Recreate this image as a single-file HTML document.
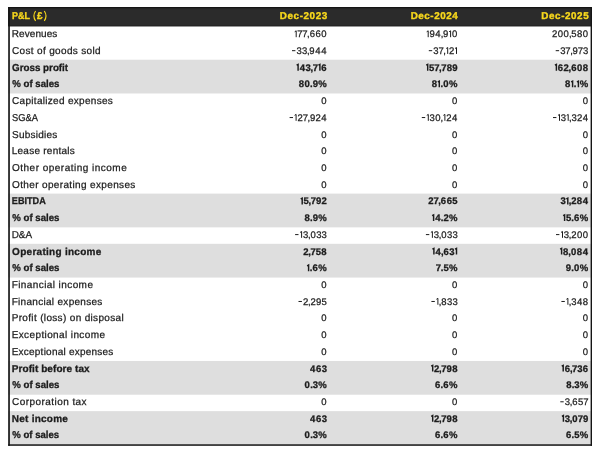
<!DOCTYPE html><html><head><meta charset="utf-8"><style>html,body{margin:0;padding:0;background:#fff;overflow:hidden}svg{display:block;will-change:transform}text{font-family:"Liberation Sans",sans-serif;white-space:pre;text-rendering:geometricPrecision}</style></head><body>
<svg width="600" height="453" viewBox="0 0 600 453">
<rect x="0" y="0" width="600" height="453" fill="#fff"/>
<rect x="8.00" y="7.00" width="584.00" height="18.80" fill="#2b2b2b"/>
<rect x="8.00" y="59.72" width="584.00" height="33.77" fill="#dedede"/>
<rect x="8.00" y="193.60" width="584.00" height="33.77" fill="#dedede"/>
<rect x="8.00" y="243.81" width="584.00" height="33.77" fill="#dedede"/>
<rect x="8.00" y="360.95" width="584.00" height="33.77" fill="#dedede"/>
<rect x="8.00" y="411.15" width="584.00" height="33.77" fill="#dedede"/>
<rect x="8.20" y="7.05" width="1.65" height="438.75" fill="#141414"/>
<rect x="590.60" y="7.05" width="1.40" height="438.75" fill="#141414"/>
<rect x="8.20" y="7.05" width="583.80" height="1.25" fill="#141414"/>
<rect x="8.20" y="444.30" width="583.80" height="1.50" fill="#141414"/>
<rect x="8.20" y="25.25" width="583.80" height="1.20" fill="#141414"/>
<text x="12.04" y="18.80" font-size="9.90" font-weight="bold" fill="#f8d81c" stroke="#f8d81c" stroke-width="0.35" textLength="17.97" lengthAdjust="spacingAndGlyphs">P&amp;L</text>
<path d="M35.6 11.0Q32.2 15.9 35.6 20.8" fill="none" stroke="#f8d81c" stroke-width="1.15"/>
<text x="37.10" y="18.80" font-size="9.90" font-weight="bold" fill="#f8d81c" stroke="#f8d81c" stroke-width="0.35" textLength="5.60" lengthAdjust="spacing">£</text>
<path d="M44.3 11.0Q47.7 15.9 44.3 20.8" fill="none" stroke="#f8d81c" stroke-width="1.15"/>
<text x="279.84" y="18.80" font-size="9.90" font-weight="bold" fill="#f8d81c" stroke="#f8d81c" stroke-width="0.35" textLength="47.42" lengthAdjust="spacing">Dec-2023</text>
<text x="410.64" y="18.80" font-size="9.90" font-weight="bold" fill="#f8d81c" stroke="#f8d81c" stroke-width="0.35" textLength="47.11" lengthAdjust="spacing">Dec-2024</text>
<text x="541.34" y="18.80" font-size="9.90" font-weight="bold" fill="#f8d81c" stroke="#f8d81c" stroke-width="0.35" textLength="47.34" lengthAdjust="spacing">Dec-2025</text>
<text x="11.68" y="37.20" font-size="10.00" fill="#1c1c1c" stroke="#1c1c1c" stroke-width="0.25" textLength="45.68" lengthAdjust="spacing">Revenues</text>
<path d="M294.70 31.77L296.20 30.82L296.20 37.20" fill="none" stroke="#1c1c1c" stroke-width="1.00" stroke-linejoin="miter"/><text x="297.26 302.26 307.08 309.63 315.43 321.31" y="37.20" font-size="9.50" fill="#1c1c1c" stroke="#1c1c1c" stroke-width="0.25">77,660</text>
<path d="M426.70 31.77L428.20 30.82L428.20 37.20" fill="none" stroke="#1c1c1c" stroke-width="1.00" stroke-linejoin="miter"/><path d="M449.10 31.77L450.60 30.82L450.60 37.20" fill="none" stroke="#1c1c1c" stroke-width="1.00" stroke-linejoin="miter"/><text x="429.51 435.34 440.68 443.11 452.11" y="37.20" font-size="9.50" fill="#1c1c1c" stroke="#1c1c1c" stroke-width="0.25">94,90</text>
<text x="552.01 557.71 563.61 568.88 571.32 576.96 582.81" y="37.20" font-size="9.50" fill="#1c1c1c" stroke="#1c1c1c" stroke-width="0.25">200,580</text>
<text x="11.99" y="53.92" font-size="10.00" fill="#1c1c1c" stroke="#1c1c1c" stroke-width="0.25" textLength="88.65" lengthAdjust="spacing">Cost of goods sold</text>
<rect x="292.00" y="50.17" width="3.40" height="1.00" fill="#1c1c1c"/><text x="296.49 301.89 306.88 309.31 315.14 321.24" y="53.92" font-size="9.50" fill="#1c1c1c" stroke="#1c1c1c" stroke-width="0.25">33,944</text>
<rect x="428.80" y="50.17" width="3.40" height="1.00" fill="#1c1c1c"/><path d="M446.20 48.49L447.70 47.54L447.70 53.92" fill="none" stroke="#1c1c1c" stroke-width="1.00" stroke-linejoin="miter"/><path d="M455.00 48.49L456.50 47.54L456.50 53.92" fill="none" stroke="#1c1c1c" stroke-width="1.00" stroke-linejoin="miter"/><text x="433.29 438.46 443.28 449.01" y="53.92" font-size="9.50" fill="#1c1c1c" stroke="#1c1c1c" stroke-width="0.25">37,2</text>
<rect x="555.70" y="50.17" width="3.40" height="1.00" fill="#1c1c1c"/><text x="560.19 565.36 570.18 572.61 577.86 583.09" y="53.92" font-size="9.50" fill="#1c1c1c" stroke="#1c1c1c" stroke-width="0.25">37,973</text>
<text x="12.09" y="70.64" font-size="10.00" font-weight="bold" fill="#1c1c1c" stroke="#1c1c1c" stroke-width="0.30" textLength="56.03" lengthAdjust="spacingAndGlyphs">Gross profit</text>
<path d="M296.60 65.21L298.10 64.42L298.10 70.64" fill="none" stroke="#1c1c1c" stroke-width="1.45" stroke-linejoin="miter"/><path d="M318.40 65.21L319.90 64.42L319.90 70.64" fill="none" stroke="#1c1c1c" stroke-width="1.45" stroke-linejoin="miter"/><text x="299.67 305.53 310.48 312.67 321.36" y="70.64" font-size="9.50" font-weight="bold" fill="#1c1c1c" stroke="#1c1c1c" stroke-width="0.30">43,76</text>
<path d="M426.20 65.21L427.70 64.42L427.70 70.64" fill="none" stroke="#1c1c1c" stroke-width="1.45" stroke-linejoin="miter"/><text x="429.00 434.27 439.08 441.27 446.66 452.32" y="70.64" font-size="9.50" font-weight="bold" fill="#1c1c1c" stroke="#1c1c1c" stroke-width="0.30">57,789</text>
<path d="M554.90 65.21L556.40 64.42L556.40 70.64" fill="none" stroke="#1c1c1c" stroke-width="1.45" stroke-linejoin="miter"/><text x="557.86 563.54 568.58 571.16 577.02 582.86" y="70.64" font-size="9.50" font-weight="bold" fill="#1c1c1c" stroke="#1c1c1c" stroke-width="0.30">62,608</text>
<text x="12.25" y="87.36" font-size="10.00" font-weight="bold" fill="#1c1c1c" stroke="#1c1c1c" stroke-width="0.30" textLength="47.16" lengthAdjust="spacingAndGlyphs">% of sales</text>
<text x="298.66 304.52 310.04 312.72 318.29" y="87.36" font-size="9.50" font-weight="bold" fill="#1c1c1c" stroke="#1c1c1c" stroke-width="0.30">80.9%</text>
<path d="M437.80 81.93L439.30 81.14L439.30 87.36" fill="none" stroke="#1c1c1c" stroke-width="1.45" stroke-linejoin="miter"/><text x="431.66 440.44 443.32 449.09" y="87.36" font-size="9.50" font-weight="bold" fill="#1c1c1c" stroke="#1c1c1c" stroke-width="0.30">8.0%</text>
<path d="M571.10 81.93L572.60 81.14L572.60 87.36" fill="none" stroke="#1c1c1c" stroke-width="1.45" stroke-linejoin="miter"/><path d="M576.90 81.93L578.40 81.14L578.40 87.36" fill="none" stroke="#1c1c1c" stroke-width="1.45" stroke-linejoin="miter"/><text x="564.96 573.74 579.79" y="87.36" font-size="9.50" font-weight="bold" fill="#1c1c1c" stroke="#1c1c1c" stroke-width="0.30">8.%</text>
<text x="11.99" y="104.08" font-size="10.00" fill="#1c1c1c" stroke="#1c1c1c" stroke-width="0.25" textLength="100.87" lengthAdjust="spacing">Capitalized expenses</text>
<text x="321.31" y="104.08" font-size="9.50" fill="#1c1c1c" stroke="#1c1c1c" stroke-width="0.25">0</text>
<text x="452.11" y="104.08" font-size="9.50" fill="#1c1c1c" stroke="#1c1c1c" stroke-width="0.25">0</text>
<text x="582.81" y="104.08" font-size="9.50" fill="#1c1c1c" stroke="#1c1c1c" stroke-width="0.25">0</text>
<text x="12.04" y="120.80" font-size="10.00" fill="#1c1c1c" stroke="#1c1c1c" stroke-width="0.25" textLength="25.98" lengthAdjust="spacingAndGlyphs">SG&amp;A</text>
<rect x="289.60" y="117.05" width="3.40" height="1.00" fill="#1c1c1c"/><path d="M294.60 115.37L296.10 114.42L296.10 120.80" fill="none" stroke="#1c1c1c" stroke-width="1.00" stroke-linejoin="miter"/><text x="297.41 302.66 307.48 309.91 315.41 321.24" y="120.80" font-size="9.50" fill="#1c1c1c" stroke="#1c1c1c" stroke-width="0.25">27,924</text>
<rect x="421.80" y="117.05" width="3.40" height="1.00" fill="#1c1c1c"/><path d="M426.80 115.37L428.30 114.42L428.30 120.80" fill="none" stroke="#1c1c1c" stroke-width="1.00" stroke-linejoin="miter"/><path d="M443.40 115.37L444.90 114.42L444.90 120.80" fill="none" stroke="#1c1c1c" stroke-width="1.00" stroke-linejoin="miter"/><text x="429.59 435.21 440.48 446.21 452.04" y="120.80" font-size="9.50" fill="#1c1c1c" stroke="#1c1c1c" stroke-width="0.25">30,24</text>
<rect x="553.00" y="117.05" width="3.40" height="1.00" fill="#1c1c1c"/><path d="M558.00 115.37L559.50 114.42L559.50 120.80" fill="none" stroke="#1c1c1c" stroke-width="1.00" stroke-linejoin="miter"/><path d="M566.70 115.37L568.20 114.42L568.20 120.80" fill="none" stroke="#1c1c1c" stroke-width="1.00" stroke-linejoin="miter"/><text x="560.79 569.08 571.49 576.91 582.74" y="120.80" font-size="9.50" fill="#1c1c1c" stroke="#1c1c1c" stroke-width="0.25">3,324</text>
<text x="12.04" y="137.52" font-size="10.00" fill="#1c1c1c" stroke="#1c1c1c" stroke-width="0.25" textLength="45.32" lengthAdjust="spacing">Subsidies</text>
<text x="321.31" y="137.52" font-size="9.50" fill="#1c1c1c" stroke="#1c1c1c" stroke-width="0.25">0</text>
<text x="452.11" y="137.52" font-size="9.50" fill="#1c1c1c" stroke="#1c1c1c" stroke-width="0.25">0</text>
<text x="582.81" y="137.52" font-size="9.50" fill="#1c1c1c" stroke="#1c1c1c" stroke-width="0.25">0</text>
<text x="11.68" y="154.24" font-size="10.00" fill="#1c1c1c" stroke="#1c1c1c" stroke-width="0.25" textLength="63.18" lengthAdjust="spacing">Lease rentals</text>
<text x="321.31" y="154.24" font-size="9.50" fill="#1c1c1c" stroke="#1c1c1c" stroke-width="0.25">0</text>
<text x="452.11" y="154.24" font-size="9.50" fill="#1c1c1c" stroke="#1c1c1c" stroke-width="0.25">0</text>
<text x="582.81" y="154.24" font-size="9.50" fill="#1c1c1c" stroke="#1c1c1c" stroke-width="0.25">0</text>
<text x="12.03" y="170.96" font-size="10.00" fill="#1c1c1c" stroke="#1c1c1c" stroke-width="0.25" textLength="114.66" lengthAdjust="spacing">Other operating income</text>
<text x="321.31" y="170.96" font-size="9.50" fill="#1c1c1c" stroke="#1c1c1c" stroke-width="0.25">0</text>
<text x="452.11" y="170.96" font-size="9.50" fill="#1c1c1c" stroke="#1c1c1c" stroke-width="0.25">0</text>
<text x="582.81" y="170.96" font-size="9.50" fill="#1c1c1c" stroke="#1c1c1c" stroke-width="0.25">0</text>
<text x="12.03" y="187.68" font-size="10.00" fill="#1c1c1c" stroke="#1c1c1c" stroke-width="0.25" textLength="123.33" lengthAdjust="spacing">Other operating expenses</text>
<text x="321.31" y="187.68" font-size="9.50" fill="#1c1c1c" stroke="#1c1c1c" stroke-width="0.25">0</text>
<text x="452.11" y="187.68" font-size="9.50" fill="#1c1c1c" stroke="#1c1c1c" stroke-width="0.25">0</text>
<text x="582.81" y="187.68" font-size="9.50" fill="#1c1c1c" stroke="#1c1c1c" stroke-width="0.25">0</text>
<text x="11.83" y="204.40" font-size="10.00" font-weight="bold" fill="#1c1c1c" stroke="#1c1c1c" stroke-width="0.30" textLength="33.93" lengthAdjust="spacingAndGlyphs">EBITDA</text>
<path d="M300.70 198.97L302.20 198.18L302.20 204.40" fill="none" stroke="#1c1c1c" stroke-width="1.45" stroke-linejoin="miter"/><text x="303.50 308.58 310.77 316.02 321.54" y="204.40" font-size="9.50" font-weight="bold" fill="#1c1c1c" stroke="#1c1c1c" stroke-width="0.30">5,792</text>
<text x="428.24 433.47 438.28 440.86 446.66 452.30" y="204.40" font-size="9.50" font-weight="bold" fill="#1c1c1c" stroke="#1c1c1c" stroke-width="0.30">27,665</text>
<path d="M566.30 198.97L567.80 198.18L567.80 204.40" fill="none" stroke="#1c1c1c" stroke-width="1.45" stroke-linejoin="miter"/><text x="560.43 568.68 571.14 576.76 582.67" y="204.40" font-size="9.50" font-weight="bold" fill="#1c1c1c" stroke="#1c1c1c" stroke-width="0.30">3,284</text>
<text x="12.25" y="221.12" font-size="10.00" font-weight="bold" fill="#1c1c1c" stroke="#1c1c1c" stroke-width="0.30" textLength="47.16" lengthAdjust="spacingAndGlyphs">% of sales</text>
<text x="304.56 310.04 312.72 318.29" y="221.12" font-size="9.50" font-weight="bold" fill="#1c1c1c" stroke="#1c1c1c" stroke-width="0.30">8.9%</text>
<path d="M432.10 215.69L433.60 214.90L433.60 221.12" fill="none" stroke="#1c1c1c" stroke-width="1.45" stroke-linejoin="miter"/><text x="435.17 440.84 443.54 449.09" y="221.12" font-size="9.50" font-weight="bold" fill="#1c1c1c" stroke="#1c1c1c" stroke-width="0.30">4.2%</text>
<path d="M563.10 215.69L564.60 214.90L564.60 221.12" fill="none" stroke="#1c1c1c" stroke-width="1.45" stroke-linejoin="miter"/><text x="565.90 571.24 574.06 579.79" y="221.12" font-size="9.50" font-weight="bold" fill="#1c1c1c" stroke="#1c1c1c" stroke-width="0.30">5.6%</text>
<text x="11.68" y="237.84" font-size="10.00" fill="#1c1c1c" stroke="#1c1c1c" stroke-width="0.25" textLength="20.34" lengthAdjust="spacingAndGlyphs">D&amp;A</text>
<rect x="295.10" y="234.09" width="3.40" height="1.00" fill="#1c1c1c"/><path d="M300.10 232.41L301.60 231.46L301.60 237.84" fill="none" stroke="#1c1c1c" stroke-width="1.00" stroke-linejoin="miter"/><text x="302.89 307.88 310.51 316.19 321.59" y="237.84" font-size="9.50" fill="#1c1c1c" stroke="#1c1c1c" stroke-width="0.25">3,033</text>
<rect x="425.90" y="234.09" width="3.40" height="1.00" fill="#1c1c1c"/><path d="M430.90 232.41L432.40 231.46L432.40 237.84" fill="none" stroke="#1c1c1c" stroke-width="1.00" stroke-linejoin="miter"/><text x="433.69 438.68 441.31 446.99 452.39" y="237.84" font-size="9.50" fill="#1c1c1c" stroke="#1c1c1c" stroke-width="0.25">3,033</text>
<rect x="556.00" y="234.09" width="3.40" height="1.00" fill="#1c1c1c"/><path d="M561.00 232.41L562.50 231.46L562.50 237.84" fill="none" stroke="#1c1c1c" stroke-width="1.00" stroke-linejoin="miter"/><text x="563.79 568.78 571.21 576.91 582.81" y="237.84" font-size="9.50" fill="#1c1c1c" stroke="#1c1c1c" stroke-width="0.25">3,200</text>
<text x="12.09" y="254.56" font-size="10.00" font-weight="bold" fill="#1c1c1c" stroke="#1c1c1c" stroke-width="0.30" textLength="89.25" lengthAdjust="spacing">Operating income</text>
<text x="303.24 308.28 310.47 315.70 321.36" y="254.56" font-size="9.50" font-weight="bold" fill="#1c1c1c" stroke="#1c1c1c" stroke-width="0.30">2,758</text>
<path d="M432.40 249.13L433.90 248.34L433.90 254.56" fill="none" stroke="#1c1c1c" stroke-width="1.45" stroke-linejoin="miter"/><path d="M455.00 249.13L456.50 248.34L456.50 254.56" fill="none" stroke="#1c1c1c" stroke-width="1.45" stroke-linejoin="miter"/><text x="435.47 440.88 443.46 449.13" y="254.56" font-size="9.50" font-weight="bold" fill="#1c1c1c" stroke="#1c1c1c" stroke-width="0.30">4,63</text>
<path d="M560.10 249.13L561.60 248.34L561.60 254.56" fill="none" stroke="#1c1c1c" stroke-width="1.45" stroke-linejoin="miter"/><text x="563.06 568.28 570.92 576.76 582.67" y="254.56" font-size="9.50" font-weight="bold" fill="#1c1c1c" stroke="#1c1c1c" stroke-width="0.30">8,084</text>
<text x="12.25" y="271.28" font-size="10.00" font-weight="bold" fill="#1c1c1c" stroke="#1c1c1c" stroke-width="0.30" textLength="47.16" lengthAdjust="spacingAndGlyphs">% of sales</text>
<path d="M307.10 265.85L308.60 265.06L308.60 271.28" fill="none" stroke="#1c1c1c" stroke-width="1.45" stroke-linejoin="miter"/><text x="309.74 312.56 318.29" y="271.28" font-size="9.50" font-weight="bold" fill="#1c1c1c" stroke="#1c1c1c" stroke-width="0.30">.6%</text>
<text x="435.77 440.84 443.50 449.09" y="271.28" font-size="9.50" font-weight="bold" fill="#1c1c1c" stroke="#1c1c1c" stroke-width="0.30">7.5%</text>
<text x="565.82 571.14 574.02 579.79" y="271.28" font-size="9.50" font-weight="bold" fill="#1c1c1c" stroke="#1c1c1c" stroke-width="0.30">9.0%</text>
<text x="11.68" y="288.00" font-size="10.00" fill="#1c1c1c" stroke="#1c1c1c" stroke-width="0.25" textLength="81.26" lengthAdjust="spacing">Financial income</text>
<text x="321.31" y="288.00" font-size="9.50" fill="#1c1c1c" stroke="#1c1c1c" stroke-width="0.25">0</text>
<text x="452.11" y="288.00" font-size="9.50" fill="#1c1c1c" stroke="#1c1c1c" stroke-width="0.25">0</text>
<text x="582.81" y="288.00" font-size="9.50" fill="#1c1c1c" stroke="#1c1c1c" stroke-width="0.25">0</text>
<text x="11.68" y="304.72" font-size="10.00" fill="#1c1c1c" stroke="#1c1c1c" stroke-width="0.25" textLength="90.68" lengthAdjust="spacing">Financial expenses</text>
<rect x="298.50" y="300.97" width="3.40" height="1.00" fill="#1c1c1c"/><text x="303.01 308.08 310.51 316.01 321.52" y="304.72" font-size="9.50" fill="#1c1c1c" stroke="#1c1c1c" stroke-width="0.25">2,295</text>
<rect x="431.40" y="300.97" width="3.40" height="1.00" fill="#1c1c1c"/><path d="M436.40 299.29L437.90 298.34L437.90 304.72" fill="none" stroke="#1c1c1c" stroke-width="1.00" stroke-linejoin="miter"/><text x="438.78 441.36 446.99 452.39" y="304.72" font-size="9.50" fill="#1c1c1c" stroke="#1c1c1c" stroke-width="0.25">,833</text>
<rect x="561.40" y="300.97" width="3.40" height="1.00" fill="#1c1c1c"/><path d="M566.40 299.29L567.90 298.34L567.90 304.72" fill="none" stroke="#1c1c1c" stroke-width="1.00" stroke-linejoin="miter"/><text x="568.78 571.19 576.94 582.86" y="304.72" font-size="9.50" fill="#1c1c1c" stroke="#1c1c1c" stroke-width="0.25">,348</text>
<text x="11.68" y="321.44" font-size="10.00" fill="#1c1c1c" stroke="#1c1c1c" stroke-width="0.25" textLength="111.99" lengthAdjust="spacing">Profit (loss) on disposal</text>
<text x="321.31" y="321.44" font-size="9.50" fill="#1c1c1c" stroke="#1c1c1c" stroke-width="0.25">0</text>
<text x="452.11" y="321.44" font-size="9.50" fill="#1c1c1c" stroke="#1c1c1c" stroke-width="0.25">0</text>
<text x="582.81" y="321.44" font-size="9.50" fill="#1c1c1c" stroke="#1c1c1c" stroke-width="0.25">0</text>
<text x="11.68" y="338.16" font-size="10.00" fill="#1c1c1c" stroke="#1c1c1c" stroke-width="0.25" textLength="93.26" lengthAdjust="spacing">Exceptional income</text>
<text x="321.31" y="338.16" font-size="9.50" fill="#1c1c1c" stroke="#1c1c1c" stroke-width="0.25">0</text>
<text x="452.11" y="338.16" font-size="9.50" fill="#1c1c1c" stroke="#1c1c1c" stroke-width="0.25">0</text>
<text x="582.81" y="338.16" font-size="9.50" fill="#1c1c1c" stroke="#1c1c1c" stroke-width="0.25">0</text>
<text x="11.68" y="354.88" font-size="10.00" fill="#1c1c1c" stroke="#1c1c1c" stroke-width="0.25" textLength="101.68" lengthAdjust="spacing">Exceptional expenses</text>
<text x="321.31" y="354.88" font-size="9.50" fill="#1c1c1c" stroke="#1c1c1c" stroke-width="0.25">0</text>
<text x="452.11" y="354.88" font-size="9.50" fill="#1c1c1c" stroke="#1c1c1c" stroke-width="0.25">0</text>
<text x="582.81" y="354.88" font-size="9.50" fill="#1c1c1c" stroke="#1c1c1c" stroke-width="0.25">0</text>
<text x="11.83" y="371.60" font-size="10.00" font-weight="bold" fill="#1c1c1c" stroke="#1c1c1c" stroke-width="0.30" textLength="77.75" lengthAdjust="spacing">Profit before tax</text>
<text x="309.97 315.96 321.63" y="371.60" font-size="9.50" font-weight="bold" fill="#1c1c1c" stroke="#1c1c1c" stroke-width="0.30">463</text>
<path d="M431.20 366.17L432.70 365.38L432.70 371.60" fill="none" stroke="#1c1c1c" stroke-width="1.45" stroke-linejoin="miter"/><text x="434.04 439.08 441.27 446.52 452.16" y="371.60" font-size="9.50" font-weight="bold" fill="#1c1c1c" stroke="#1c1c1c" stroke-width="0.30">2,798</text>
<path d="M561.70 366.17L563.20 365.38L563.20 371.60" fill="none" stroke="#1c1c1c" stroke-width="1.45" stroke-linejoin="miter"/><text x="564.66 569.88 572.07 577.33 582.86" y="371.60" font-size="9.50" font-weight="bold" fill="#1c1c1c" stroke="#1c1c1c" stroke-width="0.30">6,736</text>
<text x="12.25" y="388.32" font-size="10.00" font-weight="bold" fill="#1c1c1c" stroke="#1c1c1c" stroke-width="0.30" textLength="47.16" lengthAdjust="spacingAndGlyphs">% of sales</text>
<text x="304.62 310.14 312.83 318.29" y="388.32" font-size="9.50" font-weight="bold" fill="#1c1c1c" stroke="#1c1c1c" stroke-width="0.30">0.3%</text>
<text x="435.06 440.54 443.36 449.09" y="388.32" font-size="9.50" font-weight="bold" fill="#1c1c1c" stroke="#1c1c1c" stroke-width="0.30">6.6%</text>
<text x="566.16 571.64 574.33 579.79" y="388.32" font-size="9.50" font-weight="bold" fill="#1c1c1c" stroke="#1c1c1c" stroke-width="0.30">8.3%</text>
<text x="11.99" y="405.04" font-size="10.00" fill="#1c1c1c" stroke="#1c1c1c" stroke-width="0.25" textLength="74.62" lengthAdjust="spacing">Corporation tax</text>
<text x="321.31" y="405.04" font-size="9.50" fill="#1c1c1c" stroke="#1c1c1c" stroke-width="0.25">0</text>
<text x="452.11" y="405.04" font-size="9.50" fill="#1c1c1c" stroke="#1c1c1c" stroke-width="0.25">0</text>
<rect x="560.30" y="401.29" width="3.40" height="1.00" fill="#1c1c1c"/><text x="564.79 569.78 572.33 578.02 583.26" y="405.04" font-size="9.50" fill="#1c1c1c" stroke="#1c1c1c" stroke-width="0.25">3,657</text>
<text x="11.83" y="421.76" font-size="10.00" font-weight="bold" fill="#1c1c1c" stroke="#1c1c1c" stroke-width="0.30" textLength="56.01" lengthAdjust="spacing">Net income</text>
<text x="309.97 315.96 321.63" y="421.76" font-size="9.50" font-weight="bold" fill="#1c1c1c" stroke="#1c1c1c" stroke-width="0.30">463</text>
<path d="M431.20 416.33L432.70 415.54L432.70 421.76" fill="none" stroke="#1c1c1c" stroke-width="1.45" stroke-linejoin="miter"/><text x="434.04 439.08 441.27 446.52 452.16" y="421.76" font-size="9.50" font-weight="bold" fill="#1c1c1c" stroke="#1c1c1c" stroke-width="0.30">2,798</text>
<path d="M561.90 416.33L563.40 415.54L563.40 421.76" fill="none" stroke="#1c1c1c" stroke-width="1.45" stroke-linejoin="miter"/><text x="564.73 569.68 572.32 577.77 583.02" y="421.76" font-size="9.50" font-weight="bold" fill="#1c1c1c" stroke="#1c1c1c" stroke-width="0.30">3,079</text>
<text x="12.25" y="438.48" font-size="10.00" font-weight="bold" fill="#1c1c1c" stroke="#1c1c1c" stroke-width="0.30" textLength="46.86" lengthAdjust="spacingAndGlyphs">% of sales</text>
<text x="304.62 310.14 312.83 318.29" y="438.48" font-size="9.50" font-weight="bold" fill="#1c1c1c" stroke="#1c1c1c" stroke-width="0.30">0.3%</text>
<text x="435.06 440.54 443.36 449.09" y="438.48" font-size="9.50" font-weight="bold" fill="#1c1c1c" stroke="#1c1c1c" stroke-width="0.30">6.6%</text>
<text x="566.06 571.54 574.20 579.79" y="438.48" font-size="9.50" font-weight="bold" fill="#1c1c1c" stroke="#1c1c1c" stroke-width="0.30">6.5%</text>
</svg></body></html>
